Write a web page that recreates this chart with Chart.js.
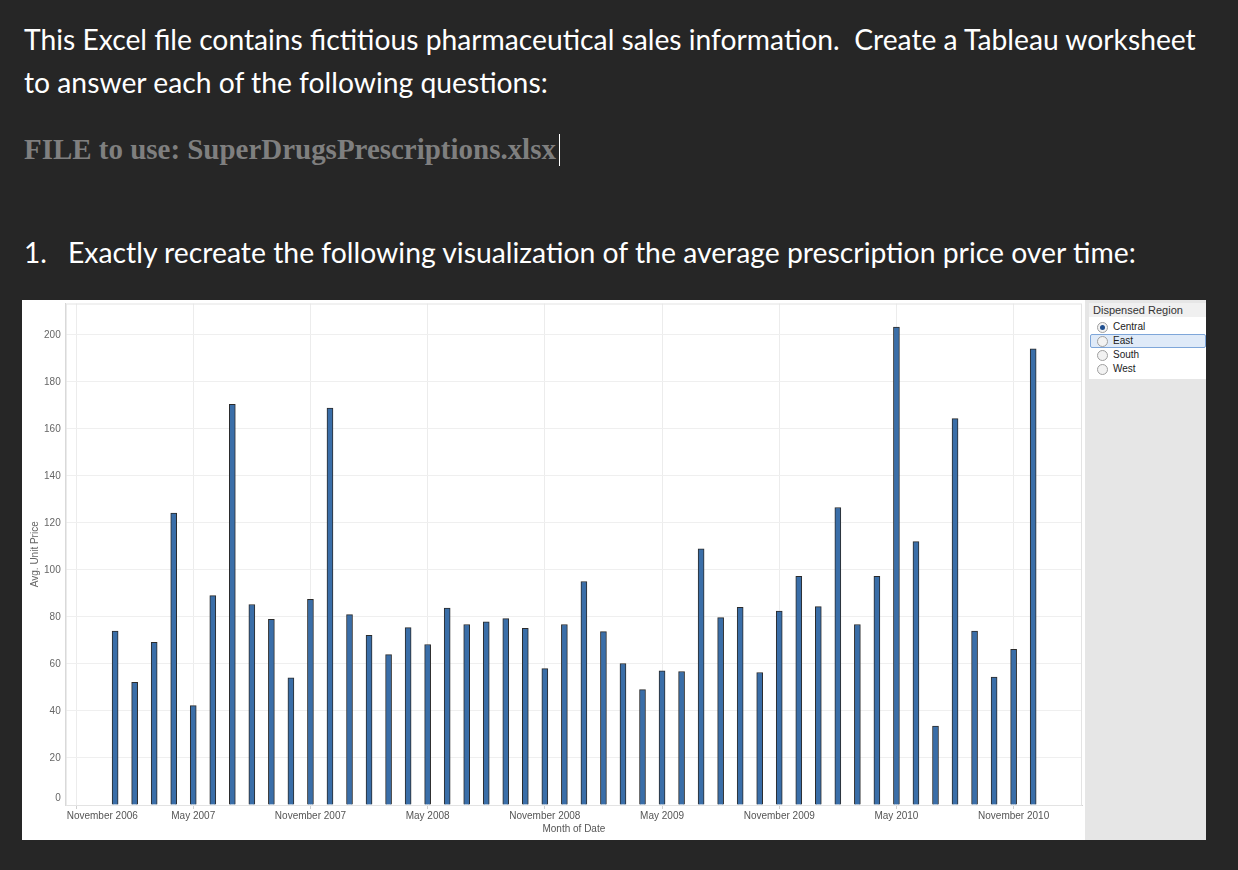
<!DOCTYPE html>
<html>
<head>
<meta charset="utf-8">
<script src="https://cdn.jsdelivr.net/npm/chart.js@4.4.1/dist/chart.umd.min.js"></script>
<style>
  html, body { margin: 0; padding: 0; }
  body { width: 1238px; height: 870px; background: #262626; position: relative; overflow: hidden; font-family: Lato, "Open Sans", sans-serif; }
  .line { position: absolute; white-space: pre; color: #ffffff; font-family: Lato, sans-serif; font-size: 28px; line-height: 34px; }
  .file { color: #7f7f7f; font-family: "Liberation Serif", "DejaVu Serif", serif; font-weight: bold; }
  #cursor { position: absolute; left: 559px; top: 134px; width: 1px; height: 32px; background: #ffffff; }
  #chartBox { position: absolute; left: 22px; top: 300px; width: 1063px; height: 540px; background: #ffffff; }
  #side { position: absolute; left: 1085px; top: 300px; width: 121px; height: 540px; background: #e6e6e6; }
  #legend { position: absolute; left: 4px; top: 3px; width: 117px; height: 76px; background: #ffffff; font-family: "Liberation Sans", Arial, sans-serif; font-size: 10px; color: #222; }
  #legend .head { height: 14px; line-height: 14px; background: #f0f0f0; padding-left: 4px; font-size: 11px; color: #333; }
  #legend .item { position: relative; height: 12px; line-height: 12px; margin: 0 0 0 1px; padding-left: 22px; border: 1px solid transparent; }
  #legend .head + .item { margin-top: 3px; }
  #legend .item.hl { background: #dfeaf8; border-color: #7ea6d9; border-radius: 2px; }
  #legend .radio { position: absolute; left: 6px; top: 1px; width: 9px; height: 9px; border-radius: 50%; border: 1px solid #a0a0a0; background: #f2f2f2; }
  #legend .radio.on::after { content: ""; position: absolute; left: 2px; top: 2px; width: 5px; height: 5px; border-radius: 50%; background: #1f4f8f; }
</style>
</head>
<body>
<div class="line" id="l1" data-w="1172" style="left:24px; top:22px;">This Excel file contains fictitious pharmaceutical sales information.  Create a Tableau worksheet</div>
<div class="line" id="l2" data-w="524" style="left:24px; top:65px;">to answer each of the following questions:</div>
<div class="line file" id="l3" data-w="532" style="left:24px; top:132px;">FILE to use: SuperDrugsPrescriptions.xlsx</div>
<div id="cursor"></div>
<div class="line" style="left:24px; top:235px;">1.</div>
<div class="line" id="l4" data-w="1068" style="left:68px; top:235px;">Exactly recreate the following visualization of the average prescription price over time:</div>

<div id="chartBox"><canvas id="myChart"></canvas></div>
<div id="side">
  <div id="legend">
    <div class="head">Dispensed Region</div>
    <div class="item"><span class="radio on"></span>Central</div>
    <div class="item hl"><span class="radio"></span>East</div>
    <div class="item"><span class="radio"></span>South</div>
    <div class="item"><span class="radio"></span>West</div>
  </div>
</div>

<script>
// fit header lines to the widths in the picture
document.querySelectorAll('.line[data-w]').forEach(function (el) {
  var target = +el.dataset.w;
  var fs = parseFloat(getComputedStyle(el).fontSize);
  var w = el.getBoundingClientRect().width;
  el.style.fontSize = (fs * target / w).toFixed(2) + 'px';
});

// Month of Date (first bar Jan 2007, last Dec 2010)
var meses = [
  'Jan 2007','Feb 2007','Mar 2007','Apr 2007','May 2007','Jun 2007','Jul 2007','Aug 2007','Sep 2007','Oct 2007','Nov 2007','Dec 2007',
  'Jan 2008','Feb 2008','Mar 2008','Apr 2008','May 2008','Jun 2008','Jul 2008','Aug 2008','Sep 2008','Oct 2008','Nov 2008','Dec 2008',
  'Jan 2009','Feb 2009','Mar 2009','Apr 2009','May 2009','Jun 2009','Jul 2009','Aug 2009','Sep 2009','Oct 2009','Nov 2009','Dec 2009',
  'Jan 2010','Feb 2010','Mar 2010','Apr 2010','May 2010','Jun 2010','Jul 2010','Aug 2010','Sep 2010','Oct 2010','Nov 2010','Dec 2010'
];

// Avg. Unit Price
var precoMedio = [
  74.0, 52.2, 69.2, 124.2, 42.3, 89.1, 170.5, 85.3, 79.0, 54.1, 87.5, 168.9,
  81.0, 72.2, 64.0, 75.5, 68.3, 83.8, 76.8, 77.9, 79.3, 75.2, 58.0, 76.8,
  95.1, 73.8, 60.2, 49.1, 57.1, 56.8, 109.0, 79.7, 84.1, 56.4, 82.5, 97.3,
  84.4, 126.6, 76.8, 97.3, 203.4, 112.1, 33.6, 164.4, 74.0, 54.4, 66.2, 194.1
];

var rotulosEixoX = [
  'November 2006', 'May 2007', 'November 2007', 'May 2008', 'November 2008',
  'May 2009', 'November 2009', 'May 2010', 'November 2010'
];

var nomesMes = ['Jan','Feb','Mar','Apr','May','Jun','Jul','Aug','Sep','Oct','Nov','Dec'];

// months counted from November 2006
function indiceMes(rotulo) {
  var p = rotulo.split(' ');
  return (+p[1] - 2006) * 12 + nomesMes.indexOf(p[0]) - 10;
}

var pontos = meses.map(function (m, i) {
  return { x: indiceMes(m), y: precoMedio[i] };
});

var bordaPlot = {
  id: 'bordaPlot',
  afterDraw: function (chart) {
    var a = chart.chartArea, c = chart.ctx;
    c.save();
    c.strokeStyle = '#e3e3e3';
    c.lineWidth = 1;
    c.strokeRect(a.left + 0.5, a.top + 0.5, a.right - a.left - 1, a.bottom - a.top);
    c.restore();
  }
};

// like Tableau: keep the first month label and the 0 label inside the plot
var rotulosDentro = {
  id: 'rotulosDentro',
  beforeDraw: function (chart) {
    var a = chart.chartArea;
    var xi = chart.scales.x.getLabelItems(a);
    if (xi.length) {
      xi[0].options.textAlign = 'left';
      xi[0].options.translation[0] = a.left + 1;
    }
    var yi = chart.scales.y.getLabelItems(a);
    yi.forEach(function (it) {
      if (it.label === '0') it.options.translation[1] = a.bottom - 7;
    });
  }
};

Chart.defaults.font.family = '"Liberation Sans", Arial, sans-serif';
Chart.defaults.font.size = 10;

new Chart(document.getElementById('myChart'), {
  type: 'bar',
  data: {
    datasets: [{
      label: 'Avg. Unit Price',
      data: pontos,
      backgroundColor: '#3a6ea8',
      borderColor: '#2b2b2b',
      borderWidth: 1,
      borderSkipped: 'bottom',
      barThickness: 6
    }]
  },
  options: {
    responsive: true,
    maintainAspectRatio: false,
    animation: false,
    layout: { padding: { left: 0, right: 3, top: 3.5, bottom: 0 } },
    plugins: { legend: { display: false }, tooltip: { enabled: false } },
    scales: {
      x: {
        type: 'linear',
        offset: false,
        min: -0.53,
        max: 51.5,
        afterFit: function (s) { s.height = 35; s.paddingLeft = 0; s.paddingRight = 0; },
        ticks: {
          stepSize: 6,
          includeBounds: false,
          autoSkip: false,
          maxRotation: 0,
          color: '#555555',
          padding: 1,
          callback: function (v) { return rotulosEixoX[v / 6]; }
        },
        grid: { offset: false, color: '#ececec', tickColor: '#cfcfcf', tickLength: 4 },
        border: { color: '#d4d4d4' },
        title: { display: true, text: 'Month of Date', color: '#555555', padding: { top: 0, bottom: 5 } }
      },
      y: {
        min: 0,
        max: 213.4,
        afterFit: function (s) { s.width = 43.7; s.paddingTop = 0; s.paddingBottom = 0; },
        ticks: { stepSize: 20, includeBounds: false, color: '#666666', padding: 5 },
        grid: { color: '#efefef', drawTicks: false },
        border: { color: '#d4d4d4' },
        title: { display: true, text: 'Avg. Unit Price', color: '#666666', padding: { top: 7.5, bottom: 0 } }
      }
    }
  },
  plugins: [bordaPlot, rotulosDentro]
});
</script>
</body>
</html>
